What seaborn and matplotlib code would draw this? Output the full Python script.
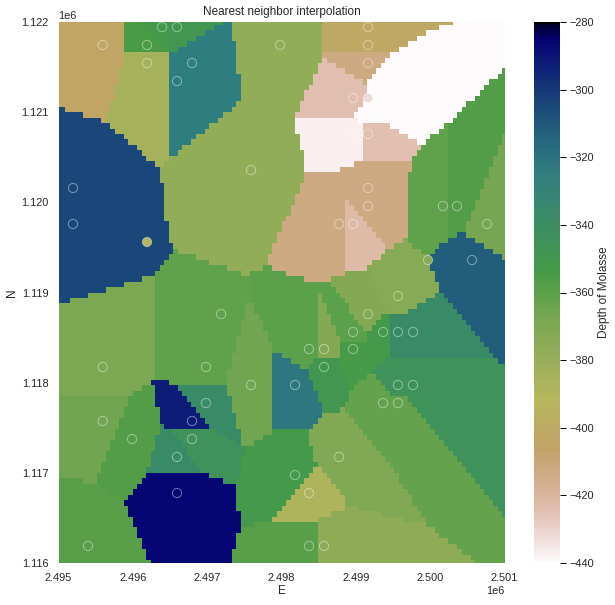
import numpy as np
import matplotlib
matplotlib.use("Agg")
import matplotlib.pyplot as plt
import seaborn as sns
from matplotlib.cm import ScalarMappable
from matplotlib.colors import Normalize

# boreholes used for the nearest-neighbour surface
east = [2495595, 2496191, 2496392, 2496594, 2496191, 2496796, 2497980, 2499164, 2499164, 2499164,
        2498962, 2499366, 2499366, 2499164, 2498962, 2499164, 2495195, 2495195, 2497590, 2499164,
        2499164, 2498774, 2498962, 2500173, 2500361, 2500765, 2500563, 2499567, 2499164,
        2498962, 2499366, 2499567, 2499769, 2498370, 2498572, 2498962, 2498572, 2495595, 2496984,
        2497590, 2498182, 2499567, 2499769, 2499366, 2499567, 2496984, 2495595, 2496796, 2495989,
        2496796, 2496594, 2498182, 2498774, 2498370, 2496594, 2495397, 2498370, 2498572]
north = [1121745, 1121745, 1121944, 1121944, 1121545, 1121545, 1121745, 1121944, 1121745, 1121545,
         1121157, 1121345, 1121157, 1120957, 1120758, 1120758, 1120159, 1119760, 1120358, 1120159,
         1119959, 1119760, 1119760, 1119959, 1119959, 1119760, 1119360, 1118961, 1118761,
         1118562, 1118562, 1118562, 1118562, 1118373, 1118373, 1118373, 1118174, 1118174, 1118174,
         1117974, 1117974, 1117974, 1117974, 1117774, 1117774, 1117774, 1117575, 1117575, 1117375,
         1117375, 1117176, 1116976, 1117176, 1116776, 1116776, 1116189, 1116189, 1116189]
depth = [-405, -355, -352, -350, -385, -325, -377, -403, -403, -413,
         -424, -440, -440, -440, -437, -424, -305, -305, -377, -413,
         -413, -413, -422, -361, -357, -367, -312, -373, -372,
         -360, -352, -337, -337, -360, -372, -354, -350, -370, -361,
         -366, -322, -345, -345, -362, -362, -337, -366, -292, -357,
         -345, -337, -353, -371, -388, -286, -359, -359, -376]

# boreholes shown but left out of the surface
east_extra = [2496191, 2496594, 2497186, 2499164, 2499971]
north_extra = [1119560, 1121345, 1118761, 1121157, 1119360]
depth_extra = [-390, -325, -361, -432, -373]

x_limits = [2495000, 2501000]
y_limits = [1116000, 1122000]
depth_limits = [-440, -280]
cbar_ticks = [-280, -300, -320, -340, -360, -380, -400, -420, -440]

sns.set_theme(style="white")
plt.rcParams["font.family"] = ["Liberation Sans", "DejaVu Sans"]

W, H = 615, 605
TICK = 11
LABEL = 11.8
fig = plt.figure(figsize=(W / 72, H / 72), dpi=72)
ax = fig.add_axes([58.5 / W, 1 - 563 / H, 446 / W, 541 / H])
cax = fig.add_axes([534 / W, 1 - 563 / H, 26 / W, 541 / H])

e = np.array(east, float)
n = np.array(north, float)
d = np.array(depth, float)
gx, gy = np.meshgrid(np.linspace(*x_limits, 100), np.linspace(*y_limits, 100))
nearest = np.argmin((gx[..., None] - e) ** 2 + (gy[..., None] - n) ** 2, axis=-1)
surface = d[nearest]

norm = Normalize(*depth_limits)
cmap = plt.get_cmap("gist_earth_r")
ax.pcolormesh(gx, gy, surface, cmap=cmap, norm=norm, shading="nearest")

all_e = list(east) + east_extra
all_n = list(north) + north_extra
all_d = list(depth) + depth_extra
sns.scatterplot(x=all_e, y=all_n, hue=all_d, palette=cmap, hue_norm=norm, s=85,
                edgecolor=(1, 1, 1, 0.42), linewidth=1, legend=False, ax=ax, zorder=3)

ax.set_xlim(x_limits)
ax.set_ylim(y_limits)
ax.set_xlabel("E", fontsize=LABEL, labelpad=2)
ax.set_ylabel("N", fontsize=LABEL, labelpad=3)
ax.set_title("Nearest neighbor interpolation", fontsize=LABEL, pad=7)
ax.tick_params(labelsize=TICK, length=0, pad=10)
ax.xaxis.get_offset_text().set_fontsize(TICK)
ax.yaxis.get_offset_text().set_fontsize(TICK)
for s in ax.spines.values():
    s.set_visible(False)

cb = fig.colorbar(ScalarMappable(norm=norm, cmap=cmap), cax=cax)
cb.set_ticks(cbar_ticks)
cb.outline.set_visible(False)
cb.ax.tick_params(labelsize=TICK, length=6, width=1, color="black", pad=3, right=True)
cb.set_label("Depth of Molasse", fontsize=LABEL, labelpad=4)

fig.savefig("out.png", dpi=72)
